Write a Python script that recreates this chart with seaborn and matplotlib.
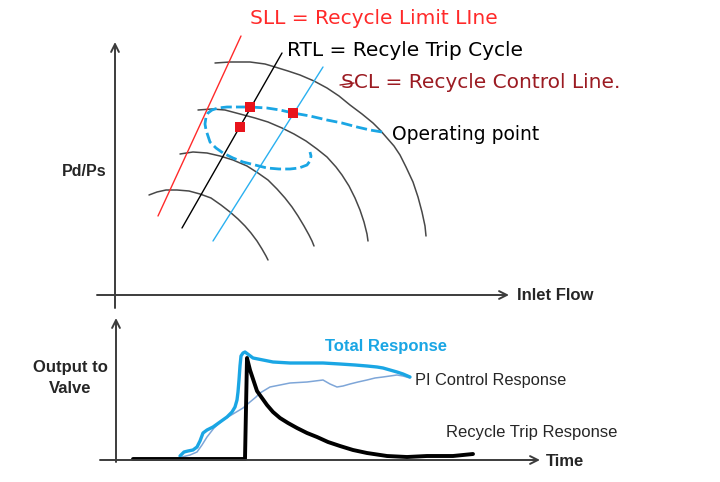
"""
Anti-surge control sketch: compressor map with limit / trip / control
lines (top) and the valve output responses after a trip (bottom).
All values are read off the reference drawing, in canvas units.
"""

import pandas as pd
import seaborn as sns
import matplotlib.pyplot as plt


# ---------------------------
# Data (canvas units, y grows downward)
# ---------------------------

# speed curves on the compressor map, outer to inner
arc1_x = [215, 230, 250, 265, 275, 288, 300, 314, 327, 339, 350, 362, 373,
          380, 387, 394, 400, 406, 413, 418, 422, 425, 426]
arc1_y = [63, 62, 62, 64, 67, 71, 75, 81, 88, 96, 105, 114, 123, 130, 138,
          146, 155, 167, 182, 197, 212, 226, 236]
arc2_x = [198, 212, 225, 240, 255, 268, 282, 294, 306, 317, 327, 336, 342,
          349, 355, 360, 364, 367, 368]
arc2_y = [110, 109, 110, 114, 118, 122, 128, 134, 141, 149, 157, 167, 175,
          186, 198, 210, 222, 234, 241]
arc3_x = [180, 193, 207, 220, 233, 247, 258, 268, 277, 285, 292, 298, 304,
          309, 312, 314]
arc3_y = [154, 152, 153, 156, 160, 166, 173, 180, 189, 198, 207, 216, 226,
          235, 241, 246]
arc4_x = [149, 157, 166, 177, 189, 200, 211, 221, 230, 238, 245, 251, 257,
          262, 266, 268]
arc4_y = [195, 192, 190, 190, 191, 194, 198, 205, 212, 219, 226, 233, 241,
          249, 256, 260]

# straight lines: surge limit, recycle trip, surge control
sll_x = [241, 158]
sll_y = [36, 216]
rtl_x = [282, 182]
rtl_y = [53, 228]
scl_x = [323, 213]
scl_y = [67, 241]

# operating point path (open loop, dashed)
path_x = [382, 370, 357, 342, 327, 310, 293, 280, 267, 250, 237, 227, 218,
          212, 208, 206, 205, 206, 210, 216, 223, 233, 243, 255, 267, 279,
          290, 299, 307, 310, 311, 310]
path_y = [132, 130, 127, 123, 120, 116, 113, 110, 108, 107, 107, 107, 108,
          110, 113, 117, 124, 130, 142, 148, 153, 158, 162, 165, 168, 169,
          169, 168, 165, 161, 156, 152]

# red markers where the path crosses the lines
marker_x = [250, 240, 293]
marker_y = [107, 127, 113]

# valve output responses
trip_x = [133, 245, 245, 247, 250, 254, 257, 262, 267, 273, 280, 288, 297,
          307, 317, 328, 340, 353, 367, 387, 407, 427, 453, 473]
trip_y = [459, 459, 459, 358, 370, 382, 391, 398, 405, 412, 418, 423, 428,
          433, 437, 442, 446, 450, 453, 456, 457, 456, 456, 454]
total_x = [180, 184, 188, 193, 197, 200, 203, 207, 213, 220, 227, 232, 235,
           237, 238, 239, 240, 241, 243, 245, 249, 253, 263, 273, 290, 307,
           323, 340, 355, 367, 377, 383, 390, 397, 403, 410]
total_y = [456, 452, 451, 450, 447, 441, 433, 430, 427, 422, 417, 412, 407,
           400, 392, 380, 366, 356, 353, 352, 355, 358, 360, 362, 363, 363,
           363, 364, 365, 366, 367, 368, 370, 372, 374, 377]
pi_x = [182, 190, 197, 202, 207, 214, 223, 233, 243, 250, 256, 260, 265,
        270, 280, 290, 307, 323, 330, 337, 343, 350, 358, 367, 375, 383,
        390, 397, 403, 410]
pi_y = [457, 455, 452, 445, 437, 428, 420, 414, 408, 402, 397, 393, 390,
        387, 385, 383, 382, 380, 384, 387, 386, 384, 382, 380, 378, 377,
        376, 375, 376, 378]


# ---------------------------
# Plot style
# ---------------------------

sns.set_theme(style="white")
plt.rcParams["font.family"] = ["DejaVu Sans"]

MAP_GRAY = "#484848"
AXIS_GRAY = "#3c3c3c"
BLUE = "#1aa6e4"
RED = "#ff2a2a"
DARK_RED = "#9b1b22"

fig = plt.figure(figsize=(7.2, 4.82), dpi=100)
ax = fig.add_axes([0, 0, 1, 1])
ax.set_xlim(0, 720)
ax.set_ylim(482, 0)
ax.axis("off")


def line(xs, ys, **kw):
    df = pd.DataFrame({"x": xs, "y": ys})
    sns.lineplot(data=df, x="x", y="y", sort=False, estimator=None,
                 ax=ax, **kw)


def arrow(x0, y0, x1, y1):
    ax.annotate("", xy=(x1, y1), xytext=(x0, y0),
                arrowprops=dict(arrowstyle="->", color=AXIS_GRAY, lw=1.4,
                                mutation_scale=14, shrinkA=0, shrinkB=0))


# ---------------------------
# Compressor map
# ---------------------------

arrow(115, 308, 115, 42)
arrow(97, 295, 509, 295)

for xs, ys in [(arc1_x, arc1_y), (arc2_x, arc2_y),
               (arc3_x, arc3_y), (arc4_x, arc4_y)]:
    line(xs, ys, color=MAP_GRAY, lw=1.1)

line(sll_x, sll_y, color=RED, lw=1.0)
line(rtl_x, rtl_y, color="black", lw=1.0)
line(scl_x, scl_y, color="#2ab0f0", lw=1.0)

line(path_x, path_y, color=BLUE, lw=2.0, linestyle=(0, (4, 1.5)))

sns.scatterplot(x=marker_x, y=marker_y, marker="s", s=42, color="#e8141c",
                edgecolor="none", ax=ax, zorder=5)

ax.text(250, 18, "SLL = Recycle Limit LIne", color=RED, fontsize=14.5,
        va="center")
ax.text(287, 51, "RTL = Recyle Trip Cycle", color="black", fontsize=14.5,
        va="center")
ax.text(341, 83, "SCL = Recycle Control Line.", color=DARK_RED,
        fontsize=14.5, va="center")
line([340, 354], [85, 83], color=DARK_RED, lw=1.0)
ax.text(392, 134, "Operating point", color="black", fontsize=13.5,
        va="center")

ax.text(84, 172, "Pd/Ps", fontsize=11.5, fontweight="bold", ha="center",
        va="center", family="Liberation Sans")
ax.text(517, 295, "Inlet Flow", fontsize=12, fontweight="bold",
        va="center", family="Liberation Sans")


# ---------------------------
# Valve output responses
# ---------------------------

arrow(116, 462, 116, 318)
arrow(100, 460, 540, 460)

line(pi_x, pi_y, color="#7ea6d8", lw=1.1)
line(total_x, total_y, color=BLUE, lw=2.4)
line(trip_x, trip_y, color="black", lw=2.8)

ax.text(325, 347, "Total Response", color=BLUE, fontsize=12,
        fontweight="bold", va="center", family="Liberation Sans")
ax.text(415, 380, "PI Control Response", fontsize=11.8, va="center",
        family="Liberation Sans")
ax.text(446, 433, "Recycle Trip Response", fontsize=12, va="center",
        family="Liberation Sans")
ax.text(546, 461, "Time", fontsize=12, fontweight="bold", va="center",
        family="Liberation Sans")
ax.text(70, 378, "Output to\nValve", fontsize=12, fontweight="bold",
        ha="center", va="center", multialignment="center",
        linespacing=1.45, family="Liberation Sans")

ax.set_xlabel("")
ax.set_ylabel("")

fig.savefig("out.png", dpi=100)
